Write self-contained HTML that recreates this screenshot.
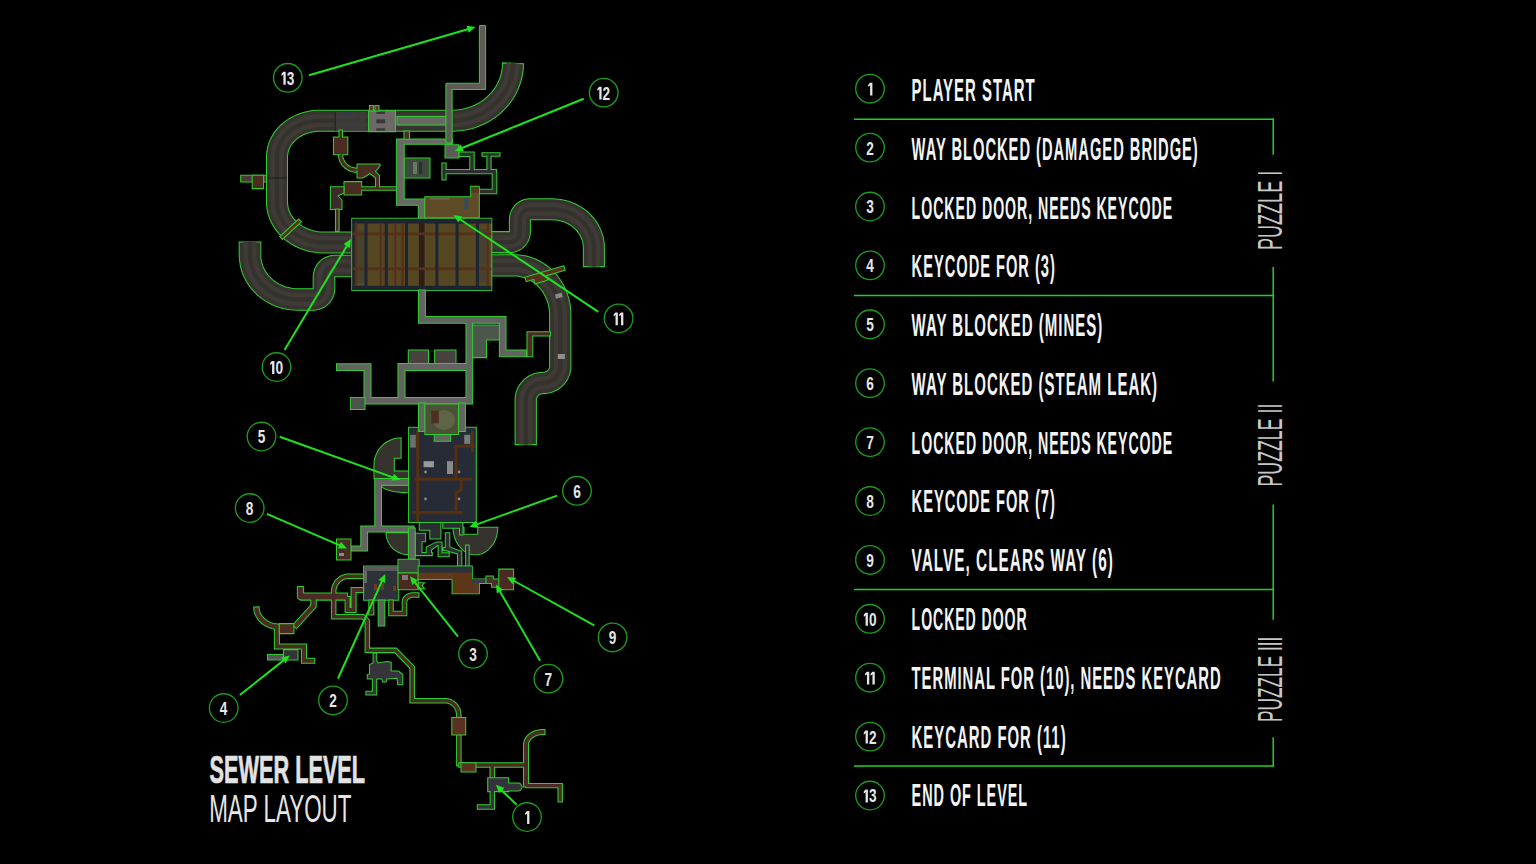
<!DOCTYPE html>
<html><head><meta charset="utf-8"><style>
html,body{margin:0;padding:0;background:#000;width:1536px;height:864px;overflow:hidden}
svg{display:block}
.it{font-family:"Liberation Sans",sans-serif;font-weight:bold;font-size:30.5px;fill:#f4f4f4;letter-spacing:2px}
.num{font-family:"Liberation Sans",sans-serif;font-weight:bold;font-size:18.6px;fill:#e6e6e6}
.pz{font-family:"Liberation Sans",sans-serif;font-weight:normal;font-size:34.5px;fill:#c8c8c8}
.t1{font-family:"Liberation Sans",sans-serif;font-weight:bold;font-size:38.8px;fill:#e2e2e2;stroke:#e2e2e2;stroke-width:0.7px}
.t2{font-family:"Liberation Sans",sans-serif;font-weight:normal;font-size:38.8px;fill:#e6e6e6}
</style></head><body>
<svg width="1536" height="864" viewBox="0 0 1536 864">
<rect width="1536" height="864" fill="#000"/>
<g id="map">
<path d="M266.8,175.2 L266.8,181.9 L240.7,181.9 L240.7,175.2Z" fill="#4a3a34" stroke="#30cc30" stroke-width="1.05"/>
<path d="M263.6,175.2 L263.6,188.6 L252.2,188.6 L252.2,175.2Z" fill="#4b2c22" stroke="#30cc30" stroke-width="1.05"/>
<path d="M502.4,66.3 L502.1,69.3 L501.5,72.3 L500.8,75.3 L499.9,78.2 L498.7,81 L497.4,83.8 L495.9,86.5 L494.2,89.1 L492.3,91.6 L490.2,94 L487.9,96.2 L485.5,98.4 L483,100.3 L480.3,102.1 L477.5,103.8 L474.6,105.3 L471.5,106.5 L468.4,107.6 L465.2,108.6 L462,109.3 L458.7,109.8 L455.3,110.1 L451.8,110.2 L319.9,110.2 L316.6,110.3 L313.2,110.6 L309.9,111 L306.6,111.7 L303.3,112.5 L300.1,113.5 L296.9,114.7 L293.9,116.1 L290.9,117.7 L288.1,119.4 L285.4,121.3 L282.8,123.3 L280.4,125.5 L278.1,127.8 L276,130.3 L274.1,132.9 L272.4,135.6 L270.8,138.5 L269.5,141.4 L268.4,144.4 L267.6,147.5 L267,150.6 L266.6,153.8 L266.5,156.8 L266.5,202.2 L266.6,205.4 L267,208.9 L267.7,212.3 L268.6,215.6 L269.7,218.9 L271.1,222 L272.7,225.1 L274.6,228.1 L276.6,230.9 L278.9,233.6 L281.3,236.2 L283.9,238.6 L286.7,240.8 L289.6,242.9 L292.6,244.8 L295.8,246.5 L299.1,248 L302.5,249.3 L305.9,250.4 L309.5,251.4 L313.1,252.1 L316.7,252.6 L320.3,252.9 L323.9,253 L352,253 L352,232 L324.1,232 L321.5,231.9 L319,231.7 L316.6,231.4 L314.2,230.9 L311.8,230.3 L309.5,229.5 L307.3,228.7 L305.2,227.7 L303.1,226.6 L301.2,225.4 L299.3,224.1 L297.6,222.7 L296,221.2 L294.6,219.7 L293.2,218.1 L292,216.4 L291,214.7 L290,212.9 L289.3,211.2 L288.6,209.4 L288.1,207.5 L287.8,205.7 L287.6,203.9 L287.5,201.8 L287.5,157.2 L287.6,155.4 L287.8,153.9 L288.1,152.3 L288.5,150.8 L289,149.3 L289.7,147.7 L290.5,146.2 L291.4,144.8 L292.5,143.4 L293.7,142 L295,140.6 L296.4,139.4 L297.9,138.2 L299.5,137 L301.3,136 L303.1,135 L305,134.1 L307,133.4 L309.1,132.7 L311.2,132.2 L313.4,131.8 L315.5,131.5 L317.8,131.3 L320.1,131.2 L452.2,131.2 L456.6,131.1 L461.3,130.6 L465.8,129.9 L470.4,128.9 L474.8,127.7 L479.2,126.1 L483.4,124.3 L487.5,122.2 L491.5,119.9 L495.3,117.4 L498.9,114.6 L502.3,111.5 L505.5,108.3 L508.5,104.9 L511.3,101.3 L513.8,97.5 L516,93.6 L518,89.5 L519.6,85.3 L521,81 L522.1,76.7 L522.9,72.2 L523.4,67.8 L523.5,63.7 L502.5,62.9Z" fill="#36332f" stroke="#30cc30" stroke-width="1.05"/>
<path d="M513.0,63.3 L512.9,67.1 L512.5,70.8 L511.8,74.5 L510.9,78.2 L509.8,81.8 L508.4,85.3 L506.7,88.7 L504.8,92.0 L502.7,95.2 L500.4,98.2 L497.9,101.1 L495.1,103.9 L492.2,106.5 L489.1,108.8 L485.9,111.0 L482.5,113.0 L479.0,114.8 L475.3,116.3 L471.6,117.7 L467.8,118.7 L463.9,119.6 L460.0,120.2 L456.0,120.6 L452.0,120.7 L320.0,120.7 L317.2,120.8 L314.4,121.0 L311.6,121.4 L308.9,121.9 L306.2,122.6 L303.5,123.5 L301.0,124.4 L298.5,125.6 L296.1,126.8 L293.8,128.2 L291.6,129.7 L289.6,131.3 L287.7,133.1 L285.9,134.9 L284.2,136.8 L282.8,138.8 L281.4,140.9 L280.3,143.1 L279.3,145.3 L278.5,147.6 L277.8,149.9 L277.4,152.3 L277.1,154.6 L277.0,157.0 L277.0,202.0 L277.1,204.6 L277.4,207.3 L277.9,209.9 L278.6,212.5 L279.5,215.0 L280.6,217.5 L281.8,219.9 L283.3,222.2 L284.9,224.5 L286.7,226.7 L288.7,228.7 L290.8,230.6 L293.0,232.4 L295.4,234.1 L297.9,235.7 L300.5,237.1 L303.2,238.3 L306.0,239.4 L308.9,240.4 L311.8,241.1 L314.8,241.7 L317.9,242.2 L320.9,242.4 L324.0,242.5 L352.0,242.5" fill="none" stroke="#3e3b37" stroke-width="13.0"/>
<path d="M513.0,63.3 L512.9,67.1 L512.5,70.8 L511.8,74.5 L510.9,78.2 L509.8,81.8 L508.4,85.3 L506.7,88.7 L504.8,92.0 L502.7,95.2 L500.4,98.2 L497.9,101.1 L495.1,103.9 L492.2,106.5 L489.1,108.8 L485.9,111.0 L482.5,113.0 L479.0,114.8 L475.3,116.3 L471.6,117.7 L467.8,118.7 L463.9,119.6 L460.0,120.2 L456.0,120.6 L452.0,120.7 L320.0,120.7 L317.2,120.8 L314.4,121.0 L311.6,121.4 L308.9,121.9 L306.2,122.6 L303.5,123.5 L301.0,124.4 L298.5,125.6 L296.1,126.8 L293.8,128.2 L291.6,129.7 L289.6,131.3 L287.7,133.1 L285.9,134.9 L284.2,136.8 L282.8,138.8 L281.4,140.9 L280.3,143.1 L279.3,145.3 L278.5,147.6 L277.8,149.9 L277.4,152.3 L277.1,154.6 L277.0,157.0 L277.0,202.0 L277.1,204.6 L277.4,207.3 L277.9,209.9 L278.6,212.5 L279.5,215.0 L280.6,217.5 L281.8,219.9 L283.3,222.2 L284.9,224.5 L286.7,226.7 L288.7,228.7 L290.8,230.6 L293.0,232.4 L295.4,234.1 L297.9,235.7 L300.5,237.1 L303.2,238.3 L306.0,239.4 L308.9,240.4 L311.8,241.1 L314.8,241.7 L317.9,242.2 L320.9,242.4 L324.0,242.5 L352.0,242.5" fill="none" stroke="#35322e" stroke-width="4.2"/>
<line x1="267" y1="178" x2="287" y2="178" stroke="#161616" stroke-width="0.8"/>
<path d="M239.2,255.2 L239.4,258.7 L239.8,262.3 L240.4,265.9 L241.3,269.5 L242.4,273 L243.8,276.4 L245.5,279.7 L247.3,282.9 L249.4,286 L251.6,288.9 L254.1,291.7 L256.7,294.4 L259.6,296.8 L262.5,299.1 L265.7,301.1 L268.9,303 L272.3,304.7 L275.8,306.2 L279.3,307.4 L283,308.4 L286.7,309.2 L290.4,309.8 L294.2,310.1 L297.8,310.2 L313.2,310.2 L314.4,310.2 L315.8,310.1 L317.2,309.8 L318.6,309.5 L320,309.1 L321.3,308.6 L322.6,308 L323.9,307.3 L325.1,306.6 L326.2,305.8 L327.3,304.9 L328.4,303.9 L329.4,302.8 L330.3,301.7 L331.1,300.6 L331.8,299.4 L332.5,298.1 L333.1,296.8 L333.6,295.5 L334,294.1 L334.3,292.7 L334.6,291.3 L334.7,289.9 L334.8,288.7 L334.8,277.2 L334.8,277 L334.8,277 L334.8,277 L334.8,276.9 L334.8,276.9 L334.8,276.9 L334.8,276.9 L334.8,276.9 L334.8,276.9 L334.8,276.9 L334.8,276.8 L334.8,276.8 L334.8,276.8 L334.9,276.8 L334.9,276.8 L334.9,276.8 L334.9,276.8 L334.9,276.8 L334.9,276.8 L334.9,276.8 L335,276.8 L335,276.8 L335,276.8 L335.2,276.8 L352,276.8 L352,255.2 L334.8,255.2 L333.6,255.3 L332.2,255.4 L330.8,255.7 L329.4,256 L328,256.4 L326.7,256.9 L325.4,257.5 L324.1,258.2 L322.9,258.9 L321.8,259.7 L320.7,260.6 L319.6,261.6 L318.6,262.7 L317.7,263.8 L316.9,264.9 L316.2,266.1 L315.5,267.4 L314.9,268.7 L314.4,270 L314,271.4 L313.7,272.8 L313.4,274.2 L313.3,275.6 L313.2,276.8 L313.2,288.3 L313.2,288.5 L313.2,288.5 L313.2,288.5 L313.2,288.6 L313.2,288.6 L313.2,288.6 L313.2,288.6 L313.2,288.6 L313.2,288.6 L313.2,288.6 L313.2,288.7 L313.2,288.7 L313.2,288.7 L313.1,288.7 L313.1,288.7 L313.1,288.7 L313.1,288.7 L313.1,288.7 L313.1,288.7 L313.1,288.7 L313,288.7 L313,288.7 L313,288.7 L312.8,288.8 L298.2,288.8 L295.5,288.7 L293,288.4 L290.6,288.1 L288.2,287.5 L285.8,286.9 L283.5,286.1 L281.2,285.1 L279.1,284.1 L277,282.9 L275,281.5 L273.1,280.1 L271.4,278.6 L269.7,277 L268.2,275.2 L266.8,273.4 L265.6,271.6 L264.4,269.6 L263.5,267.6 L262.6,265.6 L262,263.5 L261.4,261.4 L261.1,259.3 L260.8,257.2 L260.8,254.8 L260.8,242 L239.2,242Z" fill="#36332f" stroke="#30cc30" stroke-width="1.05"/>
<path d="M250.0,242.0 L250.0,255.0 L250.1,257.9 L250.4,260.8 L250.9,263.7 L251.6,266.5 L252.5,269.3 L253.7,272.0 L255.0,274.7 L256.4,277.2 L258.1,279.7 L259.9,282.1 L261.9,284.3 L264.1,286.5 L266.4,288.5 L268.8,290.3 L271.3,292.0 L274.0,293.5 L276.8,294.9 L279.6,296.1 L282.6,297.1 L285.6,298.0 L288.6,298.6 L291.7,299.1 L294.9,299.4 L298.0,299.5 L313.0,299.5 L313.7,299.5 L314.4,299.4 L315.1,299.3 L315.8,299.1 L316.5,298.9 L317.2,298.7 L317.9,298.4 L318.5,298.0 L319.1,297.6 L319.7,297.2 L320.3,296.8 L320.8,296.3 L321.3,295.8 L321.7,295.2 L322.1,294.6 L322.5,294.0 L322.9,293.4 L323.2,292.7 L323.4,292.0 L323.6,291.3 L323.8,290.6 L323.9,289.9 L324.0,289.2 L324.0,288.5 L324.0,277.0 L324.0,276.3 L324.1,275.6 L324.2,274.9 L324.4,274.2 L324.6,273.5 L324.8,272.8 L325.1,272.1 L325.5,271.5 L325.9,270.9 L326.3,270.3 L326.7,269.7 L327.2,269.2 L327.7,268.7 L328.3,268.3 L328.9,267.9 L329.5,267.5 L330.1,267.1 L330.8,266.8 L331.5,266.6 L332.2,266.4 L332.9,266.2 L333.6,266.1 L334.3,266.0 L335.0,266.0 L352.0,266.0" fill="none" stroke="#3e3b37" stroke-width="13.3"/>
<path d="M250.0,242.0 L250.0,255.0 L250.1,257.9 L250.4,260.8 L250.9,263.7 L251.6,266.5 L252.5,269.3 L253.7,272.0 L255.0,274.7 L256.4,277.2 L258.1,279.7 L259.9,282.1 L261.9,284.3 L264.1,286.5 L266.4,288.5 L268.8,290.3 L271.3,292.0 L274.0,293.5 L276.8,294.9 L279.6,296.1 L282.6,297.1 L285.6,298.0 L288.6,298.6 L291.7,299.1 L294.9,299.4 L298.0,299.5 L313.0,299.5 L313.7,299.5 L314.4,299.4 L315.1,299.3 L315.8,299.1 L316.5,298.9 L317.2,298.7 L317.9,298.4 L318.5,298.0 L319.1,297.6 L319.7,297.2 L320.3,296.8 L320.8,296.3 L321.3,295.8 L321.7,295.2 L322.1,294.6 L322.5,294.0 L322.9,293.4 L323.2,292.7 L323.4,292.0 L323.6,291.3 L323.8,290.6 L323.9,289.9 L324.0,289.2 L324.0,288.5 L324.0,277.0 L324.0,276.3 L324.1,275.6 L324.2,274.9 L324.4,274.2 L324.6,273.5 L324.8,272.8 L325.1,272.1 L325.5,271.5 L325.9,270.9 L326.3,270.3 L326.7,269.7 L327.2,269.2 L327.7,268.7 L328.3,268.3 L328.9,267.9 L329.5,267.5 L330.1,267.1 L330.8,266.8 L331.5,266.6 L332.2,266.4 L332.9,266.2 L333.6,266.1 L334.3,266.0 L335.0,266.0 L352.0,266.0" fill="none" stroke="#35322e" stroke-width="4.3"/>
<path d="M509.4,231.6 L509.3,231.6 L491,231.6 L491,252.6 L509.7,252.6 L510.9,252.6 L512.2,252.4 L513.6,252.2 L514.9,251.9 L516.2,251.5 L517.5,251 L518.7,250.4 L520,249.8 L521.1,249.1 L522.2,248.3 L523.3,247.4 L524.3,246.5 L525.2,245.5 L526.1,244.4 L526.9,243.3 L527.6,242.2 L528.2,240.9 L528.8,239.7 L529.3,238.4 L529.7,237.1 L530,235.8 L530.2,234.4 L530.4,233.1 L530.4,231.9 L530.4,219.9 L530.4,219.8 L551.8,219.8 L554.1,219.9 L556.2,220.1 L558.3,220.4 L560.3,220.8 L562.3,221.4 L564.3,222.1 L566.2,222.9 L568,223.8 L569.8,224.8 L571.4,225.9 L573,227.1 L574.5,228.4 L575.9,229.7 L577.2,231.2 L578.3,232.7 L579.4,234.2 L580.3,235.8 L581.1,237.5 L581.8,239.2 L582.4,240.9 L582.8,242.7 L583.1,244.4 L583.3,246.2 L583.4,248.2 L583.4,266.6 L604.4,266.6 L604.4,247.8 L604.3,244.7 L603.9,241.5 L603.4,238.2 L602.6,235.1 L601.5,231.9 L600.3,228.9 L598.8,225.9 L597.2,223.1 L595.4,220.3 L593.3,217.7 L591.1,215.3 L588.8,212.9 L586.2,210.7 L583.6,208.7 L580.8,206.9 L577.9,205.2 L574.9,203.7 L571.8,202.4 L568.6,201.3 L565.4,200.4 L562.1,199.7 L558.7,199.2 L555.4,198.9 L552.2,198.8 L529.6,198.8 L528.4,198.8 L527.1,199 L525.7,199.2 L524.4,199.5 L523.1,200 L521.8,200.5 L520.6,201 L519.4,201.7 L518.3,202.5 L517.2,203.3 L516.2,204.2 L515.2,205.1 L514.3,206.1 L513.5,207.2 L512.7,208.3 L512,209.4 L511.4,210.6 L510.9,211.9 L510.4,213.1 L510.1,214.4 L509.8,215.7 L509.6,217 L509.4,218.4 L509.4,219.5 L509.4,231.5Z" fill="#36332f" stroke="#30cc30" stroke-width="1.05"/>
<path d="M491.0,242.1 L509.5,242.1 L510.2,242.1 L510.9,242.0 L511.5,241.9 L512.2,241.7 L512.8,241.5 L513.5,241.3 L514.1,241.0 L514.7,240.7 L515.3,240.3 L515.8,240.0 L516.4,239.5 L516.9,239.1 L517.3,238.6 L517.8,238.0 L518.1,237.5 L518.5,236.9 L518.8,236.3 L519.1,235.7 L519.3,235.0 L519.5,234.4 L519.7,233.7 L519.8,233.1 L519.9,232.4 L519.9,231.7 L519.9,219.7 L519.9,219.0 L520.0,218.3 L520.1,217.7 L520.2,217.0 L520.4,216.4 L520.7,215.7 L520.9,215.1 L521.2,214.5 L521.6,213.9 L521.9,213.4 L522.4,212.8 L522.8,212.3 L523.3,211.9 L523.8,211.4 L524.3,211.1 L524.8,210.7 L525.4,210.4 L526.0,210.1 L526.6,209.9 L527.2,209.7 L527.9,209.5 L528.5,209.4 L529.2,209.3 L529.8,209.3 L552.0,209.3 L554.7,209.4 L557.5,209.6 L560.2,210.0 L562.8,210.6 L565.5,211.4 L568.0,212.2 L570.5,213.3 L573.0,214.5 L575.3,215.8 L577.5,217.3 L579.6,218.9 L581.6,220.6 L583.5,222.5 L585.2,224.4 L586.8,226.5 L588.3,228.7 L589.6,230.9 L590.7,233.2 L591.7,235.6 L592.5,238.0 L593.1,240.5 L593.5,242.9 L593.8,245.5 L593.9,248.0 L593.9,266.6" fill="none" stroke="#3e3b37" stroke-width="13.0"/>
<path d="M491.0,242.1 L509.5,242.1 L510.2,242.1 L510.9,242.0 L511.5,241.9 L512.2,241.7 L512.8,241.5 L513.5,241.3 L514.1,241.0 L514.7,240.7 L515.3,240.3 L515.8,240.0 L516.4,239.5 L516.9,239.1 L517.3,238.6 L517.8,238.0 L518.1,237.5 L518.5,236.9 L518.8,236.3 L519.1,235.7 L519.3,235.0 L519.5,234.4 L519.7,233.7 L519.8,233.1 L519.9,232.4 L519.9,231.7 L519.9,219.7 L519.9,219.0 L520.0,218.3 L520.1,217.7 L520.2,217.0 L520.4,216.4 L520.7,215.7 L520.9,215.1 L521.2,214.5 L521.6,213.9 L521.9,213.4 L522.4,212.8 L522.8,212.3 L523.3,211.9 L523.8,211.4 L524.3,211.1 L524.8,210.7 L525.4,210.4 L526.0,210.1 L526.6,209.9 L527.2,209.7 L527.9,209.5 L528.5,209.4 L529.2,209.3 L529.8,209.3 L552.0,209.3 L554.7,209.4 L557.5,209.6 L560.2,210.0 L562.8,210.6 L565.5,211.4 L568.0,212.2 L570.5,213.3 L573.0,214.5 L575.3,215.8 L577.5,217.3 L579.6,218.9 L581.6,220.6 L583.5,222.5 L585.2,224.4 L586.8,226.5 L588.3,228.7 L589.6,230.9 L590.7,233.2 L591.7,235.6 L592.5,238.0 L593.1,240.5 L593.5,242.9 L593.8,245.5 L593.9,248.0 L593.9,266.6" fill="none" stroke="#35322e" stroke-width="4.2"/>
<path d="M513.8,275.9 L516.3,276 L518.6,276.3 L520.8,276.7 L523,277.2 L525.2,278 L527.4,278.8 L529.5,279.8 L531.5,281 L533.5,282.3 L535.4,283.8 L537.2,285.4 L538.9,287.1 L540.6,289 L542.1,290.9 L543.5,293 L544.7,295.2 L545.8,297.5 L546.8,299.8 L547.7,302.2 L548.4,304.7 L548.9,307.2 L549.3,309.8 L549.6,312.4 L549.6,315.2 L549.6,365.8 L549.6,366.4 L549.6,366.8 L549.5,367.2 L549.4,367.6 L549.3,368 L549.2,368.4 L549,368.7 L548.8,369.1 L548.6,369.5 L548.3,369.8 L548.1,370.1 L547.8,370.4 L547.5,370.7 L547.1,371 L546.8,371.2 L546.4,371.5 L546,371.7 L545.6,371.8 L545.2,372 L544.8,372.1 L544.3,372.2 L543.9,372.3 L543.4,372.3 L542.7,372.4 L541,372.4 L539.1,372.6 L537.4,372.9 L535.6,373.3 L533.9,373.8 L532.2,374.4 L530.5,375.2 L528.9,376 L527.4,377 L525.9,378.1 L524.5,379.2 L523.2,380.4 L522,381.8 L520.8,383.2 L519.8,384.6 L518.8,386.2 L517.9,387.8 L517.2,389.4 L516.6,391.1 L516,392.8 L515.6,394.6 L515.3,396.4 L515.2,398.2 L515.1,399.8 L515.1,444.6 L536.4,444.6 L536.4,400.2 L536.4,399.6 L536.5,399.2 L536.5,398.8 L536.6,398.4 L536.7,398 L536.9,397.6 L537.1,397.2 L537.3,396.8 L537.5,396.5 L537.7,396.1 L538,395.8 L538.3,395.5 L538.6,395.2 L538.9,395 L539.2,394.7 L539.6,394.5 L539.9,394.3 L540.3,394.1 L540.7,394 L541.1,393.9 L541.5,393.8 L541.9,393.7 L542.3,393.7 L543.3,393.6 L544.8,393.6 L546.6,393.4 L548.4,393.1 L550.2,392.7 L551.9,392.2 L553.6,391.6 L555.3,390.8 L556.9,390 L558.5,389 L559.9,388 L561.4,386.9 L562.7,385.6 L564,384.3 L565.1,382.9 L566.2,381.4 L567.2,379.9 L568,378.3 L568.8,376.6 L569.5,374.9 L570,373.2 L570.4,371.4 L570.7,369.6 L570.9,367.8 L570.9,366.2 L570.9,314.8 L570.8,311.1 L570.5,307.2 L569.9,303.4 L569.1,299.6 L568,295.8 L566.7,292.1 L565.2,288.6 L563.5,285.1 L561.5,281.8 L559.4,278.5 L557.1,275.5 L554.5,272.6 L551.8,269.9 L549,267.3 L545.9,265 L542.8,262.9 L539.5,261 L536,259.3 L532.5,257.9 L528.9,256.8 L525.3,255.8 L521.5,255.2 L517.8,254.8 L514.2,254.7 L491,254.7 L491,275.9Z" fill="#36332f" stroke="#30cc30" stroke-width="1.05"/>
<path d="M491.0,265.3 L514.0,265.3 L517.0,265.4 L520.0,265.7 L523.0,266.3 L526.0,267.0 L528.9,267.9 L531.7,269.1 L534.5,270.4 L537.1,272.0 L539.7,273.7 L542.2,275.6 L544.5,277.6 L546.7,279.9 L548.8,282.2 L550.7,284.7 L552.5,287.4 L554.1,290.1 L555.5,293.0 L556.8,296.0 L557.8,299.0 L558.7,302.1 L559.4,305.3 L559.9,308.5 L560.2,311.7 L560.3,315.0 L560.3,366.0 L560.3,367.1 L560.2,368.2 L560.0,369.3 L559.7,370.4 L559.4,371.5 L559.0,372.5 L558.5,373.5 L558.0,374.5 L557.4,375.4 L556.7,376.3 L556.0,377.2 L555.2,378.0 L554.4,378.8 L553.5,379.5 L552.6,380.1 L551.6,380.7 L550.7,381.2 L549.6,381.7 L548.6,382.1 L547.5,382.4 L546.4,382.7 L545.3,382.9 L544.1,383.0 L543.0,383.0 L541.6,383.0 L540.5,383.1 L539.4,383.3 L538.4,383.6 L537.3,383.9 L536.2,384.3 L535.2,384.8 L534.2,385.3 L533.3,385.9 L532.4,386.5 L531.5,387.2 L530.7,388.0 L530.0,388.8 L529.3,389.7 L528.6,390.6 L528.0,391.5 L527.5,392.5 L527.0,393.5 L526.7,394.5 L526.3,395.6 L526.1,396.7 L525.9,397.8 L525.8,398.9 L525.8,400.0 L525.8,444.6" fill="none" stroke="#3e3b37" stroke-width="13.2"/>
<path d="M491.0,265.3 L514.0,265.3 L517.0,265.4 L520.0,265.7 L523.0,266.3 L526.0,267.0 L528.9,267.9 L531.7,269.1 L534.5,270.4 L537.1,272.0 L539.7,273.7 L542.2,275.6 L544.5,277.6 L546.7,279.9 L548.8,282.2 L550.7,284.7 L552.5,287.4 L554.1,290.1 L555.5,293.0 L556.8,296.0 L557.8,299.0 L558.7,302.1 L559.4,305.3 L559.9,308.5 L560.2,311.7 L560.3,315.0 L560.3,366.0 L560.3,367.1 L560.2,368.2 L560.0,369.3 L559.7,370.4 L559.4,371.5 L559.0,372.5 L558.5,373.5 L558.0,374.5 L557.4,375.4 L556.7,376.3 L556.0,377.2 L555.2,378.0 L554.4,378.8 L553.5,379.5 L552.6,380.1 L551.6,380.7 L550.7,381.2 L549.6,381.7 L548.6,382.1 L547.5,382.4 L546.4,382.7 L545.3,382.9 L544.1,383.0 L543.0,383.0 L541.6,383.0 L540.5,383.1 L539.4,383.3 L538.4,383.6 L537.3,383.9 L536.2,384.3 L535.2,384.8 L534.2,385.3 L533.3,385.9 L532.4,386.5 L531.5,387.2 L530.7,388.0 L530.0,388.8 L529.3,389.7 L528.6,390.6 L528.0,391.5 L527.5,392.5 L527.0,393.5 L526.7,394.5 L526.3,395.6 L526.1,396.7 L525.9,397.8 L525.8,398.9 L525.8,400.0 L525.8,444.6" fill="none" stroke="#35322e" stroke-width="4.3"/>
<path d="M563.8,265.8 L524.8,277.3 L526.2,281.7 L533.7,279.5 L535,284 L548,280 L545.9,275.9 L565.2,270.2Z" fill="#58301c" stroke="#30cc30" stroke-width="1.05"/>
<path d="M301.3,221.9 L298.7,219.1 L279.7,236.6 L282.3,239.4Z" fill="#58301c" stroke="#30cc30" stroke-width="1.05"/>
<rect x="555.3" y="293.5" width="7" height="4.5" fill="#8a8a8a" transform="rotate(-15 558.8 295.7)"/><rect x="557.8" y="354" width="7" height="5" fill="#8e8e8e"/>
<path d="M395.5,110.8 L395.5,131.6 L368.6,131.6 L368.6,110.8Z" fill="#6c6866" stroke="#30cc30" stroke-width="1.05"/>
<rect x="376.3" y="111.5" width="8.8" height="2.5" fill="#38383a"/><rect x="376.3" y="119.3" width="8.8" height="4" fill="#38383a"/><rect x="376.3" y="128.3" width="8.8" height="2.4" fill="#38383a"/>
<path d="M373.5,105.5 L373.5,111 L369.5,111 L369.5,105.5Z" fill="#5a3a2a" stroke="#30cc30" stroke-width="1.05"/>
<path d="M379,105.5 L379,111 L375,111 L375,105.5Z" fill="#5a3a2a" stroke="#30cc30" stroke-width="1.05"/>
<rect x="335.5" y="112" width="30" height="19" fill="#3e3c3c" opacity="0.7"/><line x1="335.2" y1="111.5" x2="335.2" y2="131" stroke="#1a1a1a" stroke-width="0.8"/><rect x="343" y="112.5" width="8" height="2.5" fill="#2e3a50" opacity="0.8"/><rect x="354" y="117" width="6" height="2.5" fill="#2e3a50" opacity="0.7"/>
<path d="M397,125 L446,125 L446,116.5 L397,116.5ZM396.4,144.3 L396.4,199 L396.4,205.2 L404.2,205.2 L418.3,205.2 L418.3,218.5 L425,218.5 L425,205.2 L425,199 L418.3,199 L404.2,199 L404.2,144.3 L452.3,144.3 L452.3,139 L404.2,139 L396.4,139Z" fill="#696867" stroke="#30cc30" stroke-width="1.05"/>
<path d="M452.1,89.5 L452.1,89.5 L484.4,89.5 L484.5,89.5 L484.6,89.5 L484.7,89.4 L484.9,89.4 L485,89.4 L485.1,89.3 L485.2,89.2 L485.2,89.1 L485.3,89.1 L485.4,89 L485.5,88.9 L485.5,88.8 L485.5,88.6 L485.6,88.5 L485.6,88.4 L485.6,88.3 L485.6,26.7 L485.6,26.6 L485.6,26.5 L485.5,26.4 L485.5,26.2 L485.5,26.1 L485.4,26 L485.3,25.9 L485.2,25.9 L485.2,25.8 L485.1,25.7 L485,25.6 L484.9,25.6 L484.7,25.6 L484.6,25.5 L484.5,25.5 L484.4,25.5 L480.6,25.5 L480.5,25.5 L480.4,25.5 L480.3,25.6 L480.1,25.6 L480,25.6 L479.9,25.7 L479.8,25.8 L479.8,25.9 L479.7,25.9 L479.6,26 L479.5,26.1 L479.5,26.2 L479.5,26.4 L479.4,26.5 L479.4,26.6 L479.4,26.7 L479.4,83.3 L479.4,83.3 L479.4,83.3 L447.1,83.3 L447,83.3 L446.9,83.3 L446.8,83.4 L446.6,83.4 L446.5,83.4 L446.4,83.5 L446.3,83.6 L446.3,83.7 L446.2,83.7 L446.1,83.8 L446,83.9 L446,84 L446,84.2 L445.9,84.3 L445.9,84.4 L445.9,84.5 L445.9,141.8 L445.9,141.9 L445.9,142 L446,142.1 L446,142.3 L446,142.4 L446.1,142.5 L446.2,142.6 L446.3,142.6 L446.3,142.7 L446.4,142.8 L446.5,142.9 L446.6,142.9 L446.8,142.9 L446.9,143 L447,143 L447.1,143 L450.9,143 L451,143 L451.1,143 L451.2,142.9 L451.4,142.9 L451.5,142.9 L451.6,142.8 L451.7,142.7 L451.7,142.6 L451.8,142.6 L451.9,142.5 L452,142.4 L452,142.3 L452,142.1 L452.1,142 L452.1,141.9 L452.1,141.8 L452.1,89.5Z" fill="#5e5b57" stroke="#30cc30" stroke-width="1.05"/>
<path d="M409.5,131 L409.5,139.2 L404,139.2 L404,131Z" fill="#4b2c22" stroke="#30cc30" stroke-width="1.05"/>
<path d="M430,158 L430,178 L404.2,178 L404.2,158Z" fill="#3c4a3e" stroke="#30cc30" stroke-width="1.05"/>
<rect x="413" y="162" width="4" height="12" fill="#6a7468"/><rect x="419" y="162" width="3" height="12" fill="#2a302a"/>
<path d="M459,144.8 L459,158 L445,158 L445,144.8Z" fill="#5a5c58" stroke="#30cc30" stroke-width="1.05"/>
<path d="M482,152.7 L482,156.3 L486.9,156.3 L486.9,169.4 L474.2,169.4 L474.2,152 L459,152 L459,156.4 L469.8,156.4 L469.8,169.4 L446.1,169.4 L446.1,163 L441.9,163 L441.9,180 L446.1,180 L446.1,173.8 L492.2,173.8 L492.2,189.2 L479.5,189.2 L479.5,193.8 L496.8,193.8 L496.8,171.6 L496.5,171.6 L496.5,169.4 L491.1,169.4 L491.1,156.3 L500,156.3 L500,152.7Z" fill="#2e2d30" stroke="#30cc30" stroke-width="1.05"/>
<path d="M339,130 L339,137 L333.5,137 L333.5,154.7 L340.6,154.7 L338.5,154.8 L338.5,155.9 L338.7,157 L338.9,158.2 L339.1,159.3 L339.5,160.4 L339.9,161.5 L340.4,162.5 L341,163.5 L341.6,164.5 L342.4,165.5 L343.1,166.3 L344,167.2 L344.8,168 L345.8,168.7 L346.8,169.4 L347.8,170 L348.9,170.5 L350,171 L351.1,171.4 L352.2,171.7 L353.4,172 L354.6,172.2 L355.8,172.3 L356.9,172.3 L357,170.2 L357,178 L363,178 L370,173.5 L375.5,178 L375.5,186.8 L361.7,186.8 L361.7,181.6 L344,181.6 L344,195 L361.7,195 L361.7,190.2 L396.6,190.2 L396.6,186.8 L379.5,186.8 L379.5,175.5 L375.5,171.5 L380,166 L380,164 L357,164 L357,168.1 L356.1,168.1 L355.1,168 L354.2,167.8 L353.3,167.6 L352.4,167.4 L351.5,167.1 L350.6,166.7 L349.8,166.3 L349,165.8 L348.2,165.3 L347.5,164.7 L346.8,164.1 L346.2,163.5 L345.6,162.8 L345.1,162.1 L344.6,161.4 L344.2,160.6 L343.8,159.8 L343.4,159 L343.2,158.1 L343,157.3 L342.8,156.4 L342.7,155.6 L342.7,154.7 L347.8,154.7 L347.8,137 L342.5,137 L342.5,130Z" fill="#4b2c22" stroke="#30cc30" stroke-width="1.05"/>
<path d="M330.4,186.8 L344,186.8 L344,193 L338,196 L342,200 L342,209.4 L330.4,209.4Z" fill="#3e2a2c" stroke="#30cc30" stroke-width="1.05"/>
<path d="M335.5,231.5 L339.1,231.5 L339.1,209 L335.5,209Z" fill="#4b2c22" stroke="#30cc30" stroke-width="1.05"/>
<path d="M491.8,218.3 L491.8,290.5 L351.8,290.5 L351.8,218.3Z" fill="#554722" stroke="#30cc30" stroke-width="1.05"/>
<rect x="357.5" y="229" width="7" height="54" fill="#3a3a3c" opacity="0.45"/><rect x="478" y="229" width="9" height="54" fill="#3a3a40" opacity="0.45"/>
<rect x="352.3" y="218.8" width="139" height="4.8" fill="#1d2430"/>
<rect x="352.3" y="285.8" width="139" height="4.3" fill="#1d2430"/>
<rect x="352.3" y="219" width="2.5" height="71" fill="#1d2430"/>
<rect x="355.0" y="223" width="2.2" height="63" fill="#55301a"/>
<rect x="379.6" y="223" width="2.2" height="63" fill="#55301a"/>
<rect x="394.2" y="223" width="2.2" height="63" fill="#55301a"/>
<rect x="401.3" y="223" width="2.2" height="63" fill="#55301a"/>
<rect x="486.7" y="223" width="2.2" height="63" fill="#55301a"/>
<rect x="418.9" y="223" width="5.7" height="63" fill="#2e1c16"/><rect x="425" y="223" width="1.2" height="63" fill="#5e5040" opacity="0.7"/>
<rect x="352.3" y="232.5" width="139" height="2.8" fill="#55301a"/>
<rect x="352.3" y="267.4" width="139" height="2.8" fill="#55301a"/>
<rect x="364.5" y="219" width="3" height="71" fill="#1d2532"/>
<rect x="384.8" y="219" width="3" height="71" fill="#1d2532"/>
<rect x="405.0" y="219" width="3" height="71" fill="#1d2532"/>
<rect x="435.4" y="219" width="3" height="71" fill="#1d2532"/>
<rect x="455.6" y="219" width="3" height="71" fill="#1d2532"/>
<rect x="475.9" y="219" width="3" height="71" fill="#1d2532"/>
<path d="M479.3,186.3 L470.7,186.3 L470.7,196.8 L424.8,196.8 L424.8,217.8 L479.3,217.8 L479.3,197.5 L479.3,196.8Z" fill="#5f4b27" stroke="#30cc30" stroke-width="1.05"/>
<rect x="464" y="198" width="4.5" height="12" fill="#3a4a50"/><rect x="471" y="187" width="8" height="6" fill="#573a22"/><rect x="430" y="198" width="20" height="1.5" fill="#7a7060" opacity="0.7"/>
<path d="M425.4,323.3 L466,323.3 L466,363.5 L405,363.5 L398,363.5 L398,370.5 L398,397.4 L371,397.4 L371,370.5 L371,363.7 L364,363.7 L336.5,363.7 L336.5,370.5 L364,370.5 L364,397.4 L364,404 L371,404 L398,404 L405,404 L466,404 L472.6,404 L472.6,397.4 L472.6,370.5 L472.6,363.5 L472.6,323.3 L499.4,323.3 L499.4,350 L499.4,356.7 L506,356.7 L526.5,356.7 L526.5,350 L506,350 L506,323.3 L506,316.5 L499.4,316.5 L472.6,316.5 L466,316.5 L425.4,316.5 L425.4,290 L418.5,290 L418.5,316.5 L418.5,323.3ZM405,370.5 L466,370.5 L466,397.4 L405,397.4Z" fill="#646262" stroke="#30cc30" stroke-width="1.05"/>
<path d="M550.5,336 L550.5,331.7 L532.8,331.7 L527,331.7 L527,336 L527,356.7 L532.8,356.7 L532.8,336Z" fill="#4b2c22" stroke="#30cc30" stroke-width="1.05"/>
<path d="M472.6,325 L499.4,325 L499.4,340 L486.5,340 L486.5,357.6 L472.6,357.6Z" fill="#4a574a" stroke="#30cc30" stroke-width="1.05"/>
<path d="M428.5,350 L428.5,363.5 L408.3,363.5 L408.3,350Z" fill="#48423e" stroke="#30cc30" stroke-width="1.05"/>
<path d="M456,350 L456,363.5 L434.6,363.5 L434.6,350Z" fill="#48423e" stroke="#30cc30" stroke-width="1.05"/>
<path d="M365,397.4 L365,409.4 L350.4,409.4 L350.4,397.4Z" fill="#4b544a" stroke="#30cc30" stroke-width="1.05"/>
<path d="M401.1,437.9 L401.1,458.2 L394.3,458.2 L394.3,470.9 L408.6,470.9 L408.6,478.5 L374,478.5 L374,465 L374.1,463.2 L374.2,461.5 L374.5,459.7 L374.9,458 L375.4,456.3 L376.1,454.6 L376.8,453 L377.6,451.4 L378.6,449.9 L379.6,448.5 L380.7,447.1 L381.9,445.8 L383.2,444.6 L384.6,443.5 L386,442.5 L387.6,441.5 L389.1,440.7 L390.7,440 L392.4,439.3 L394.1,438.8 L395.8,438.4 L397.6,438.1 L399.3,438Z" fill="#36332f" stroke="#30cc30" stroke-width="1.05"/>
<path d="M381.5,485.2 L408.6,485.2 L408.6,492.7 L406.8,492.7 L405.1,492.6 L403.3,492.6 L401.6,492.4 L399.9,492.3 L398.2,492.1 L396.6,491.9 L395.1,491.7 L393.5,491.4 L392.1,491.2 L390.7,490.8 L389.4,490.5 L388.2,490.1 L387.1,489.8 L386.1,489.4 L385.1,488.9 L384.3,488.5 L383.6,488.1 L382.9,487.6 L382.4,487.1 L382,486.7 L381.7,486.2 L381.6,485.7Z" fill="#36332f" stroke="#30cc30" stroke-width="1.05"/>
<path d="M476.3,427.3 L476.3,522.4 L408.6,522.4 L408.6,427.3Z" fill="#262b36" stroke="#30cc30" stroke-width="1.05"/>
<rect x="410.1" y="434.8" width="5.7" height="12.8" fill="#6e6e6e"/><rect x="464.2" y="434.8" width="6.1" height="9.1" fill="#7a7a7a"/>
<rect x="423.6" y="461.2" width="10.3" height="6" fill="#9a9a9a"/><rect x="447" y="461.2" width="6" height="12.8" fill="#8a8a8a"/>
<g fill="#8a8a8a"><circle cx="425.5" cy="472" r="1.4"/><circle cx="459" cy="472" r="1.4"/><circle cx="425.5" cy="499" r="1.4"/><circle cx="459" cy="499" r="1.4"/></g>
<g fill="none" stroke="#57300f" stroke-width="2.8"><path d="M417.6,429.6 V522"/><path d="M414.6,479.2 H471.8"/><path d="M456,479 V446.1 H474.8 M472.5,431 V452"/><path d="M412.4,512.3 H462.7 M461.2,479 V490 L456,493 V512.3"/></g>
<path d="M418.5,403 L418.5,431.5 L425.2,431.5 L425.2,403ZM458.5,403 L458.5,431.5 L465.4,431.5 L465.4,403Z" fill="#646262" stroke="#30cc30" stroke-width="1.05"/>
<path d="M458.5,404 L458.5,434.4 L424.9,434.4 L424.9,404Z" fill="#4c5238" stroke="#30cc30" stroke-width="1.05"/>
<ellipse cx="444" cy="420" rx="11" ry="10" fill="#6e7250" opacity="0.6"/><rect x="431.3" y="410.6" width="7.5" height="12.8" fill="#4e3020"/>
<path d="M450.7,434.4 L450.7,441.3 L434.2,441.3 L434.2,434.4Z" fill="#646262" stroke="#30cc30" stroke-width="1.05"/>
<path d="M408.6,478.5 L381.5,478.5 L374.8,478.5 L374.8,485.2 L374.8,526 L367.6,526 L360.8,526 L360.8,532 L360.8,546 L351,546 L351,551 L360.8,551 L367.6,551 L367.6,546 L367.6,532 L414,532 L414,526 L381.5,526 L381.5,485.2 L408.6,485.2Z" fill="#646262" stroke="#30cc30" stroke-width="1.05"/>
<path d="M351,539 L351,560 L336.5,560 L336.5,539Z" fill="#4a2a24" stroke="#30cc30" stroke-width="1.05"/>
<rect x="339" y="553" width="5" height="3" fill="#8a8a8a"/>
<path d="M386,532.6 L415.3,532.6 L415.3,554.6 L408.4,554.6 L406.9,554.6 L405.5,554.4 L404,554.2 L402.6,553.9 L401.2,553.4 L399.8,552.9 L398.5,552.3 L397.2,551.7 L396,550.9 L394.8,550.1 L393.6,549.1 L392.6,548.2 L391.6,547.1 L390.6,546 L389.8,544.8 L389,543.6 L388.3,542.3 L387.7,541 L387.2,539.7 L386.8,538.3 L386.4,536.9 L386.2,535.5 L386,534Z" fill="#36332f" stroke="#30cc30" stroke-width="1.05"/>
<path d="M453,527.3 L464,527.3 L464,534.2 L477.7,534.2 L477.7,527.3 L497.8,527.3 L497.6,530.9 L497,534.4 L496.1,537.8 L494.8,541 L493.2,544 L491.2,546.7 L489,549.1 L486.6,551.1 L484,552.7 L481.2,553.9 L478.3,554.6 L475.4,554.8 L472.5,554.6 L469.6,553.9 L466.8,552.7 L464.2,551.1 L461.8,549.1 L459.6,546.7 L457.6,544 L456,541 L454.7,537.8 L453.8,534.4 L453.2,530.9Z" fill="#36332f" stroke="#30cc30" stroke-width="1.05"/>
<path d="M459.5,528.3 L459.5,535 L463,535 L463,522.4 L459.5,522.4 L459.5,522.5 L442.8,522.5 L442.8,528.3ZM429.8,538.9 L440.9,538.9 L440.9,522.5 L419.2,522.5 L419.2,530.3 L429.8,530.3ZM415.3,533.3 L415.3,541.7 L415.3,552.5 L415.3,555.6 L422,555.6 L432.3,555.6 L432.3,552.5 L431.5,552.5 L431.5,550 L437.5,545.6 L438.1,545.6 L438.1,552.8 L438.1,556.7 L442.1,556.7 L449.2,556.7 L449.2,552.8 L442.1,552.8 L442.1,545.6 L442,545.6 L442,541.9 L436.5,541.9 L426.2,547 L426.2,552.5 L422,552.5 L422,541.7 L425.6,541.7 L425.6,533.3 L422,533.3ZM443,547.5 L443,550.5 L445.3,550.5 L457.5,553.9 L457.5,566.3 L461.8,566.3 L461.8,551 L460.2,551 L449.8,547 L449.8,532.8 L445.3,532.8 L445.3,547 L445.3,547.5ZM469.2,566.3 L469.2,545 L465.6,545 L465.6,566.3Z" fill="#2c2d33" stroke="#30cc30" stroke-width="1.05"/>
<path d="M415.2,528 L415.2,559.2 L408.4,559.2 L408.4,528Z" fill="#646262" stroke="#30cc30" stroke-width="1.05"/>
<path d="M398.8,566 L398.8,600.3 L363.6,600.3 L363.6,566Z" fill="#2e3138" stroke="#30cc30" stroke-width="1.05"/>
<rect x="364" y="566.5" width="34.3" height="4.5" fill="#5a5a5c"/><rect x="364.2" y="571" width="2.8" height="12" fill="#6a6a6a"/>
<rect x="374" y="584" width="3" height="6" fill="#6a3a1a"/><rect x="381" y="584" width="3" height="6" fill="#6a3a1a"/><rect x="393" y="586" width="3" height="5" fill="#6a3a1a"/>
<path d="M419.2,559.2 L419.2,573 L398,573 L398,559.2Z" fill="#3d433e" stroke="#30cc30" stroke-width="1.05"/>
<path d="M418.2,573 L418.2,589.7 L398,589.7 L398,573Z" fill="#4a2a20" stroke="#30cc30" stroke-width="1.05"/>
<rect x="402" y="575" width="6" height="5" fill="#7a7a7a"/>
<path d="M418.2,582.8 L424.6,582.8 L422,585.5 L424.6,588.7 L418.2,588.7Z" fill="#4a2a20" stroke="#30cc30" stroke-width="1.05"/>
<path d="M452.1,566.1 L418.2,566.1 L418.2,579.4 L452.1,579.4 L452.1,593.7 L472.3,593.7 L479.4,593.7 L479.4,583.5 L486.5,583.5 L486.5,578.9 L479.4,578.9 L472.3,578.9 L472.3,566.1Z" fill="#3a2e2a" stroke="#30cc30" stroke-width="1.05"/>
<rect x="418.8" y="566.6" width="53" height="6" fill="#2a2f3c"/><rect x="418.8" y="572.6" width="40" height="6.5" fill="#5c3a1a"/><rect x="453" y="572.6" width="19" height="20.5" fill="#5c3616"/><rect x="472.3" y="579.4" width="6.6" height="13.8" fill="#5a3a1e"/><rect x="472.3" y="579.4" width="14" height="3.6" fill="#3a3a44"/>
<path d="M493.3,576 L486,576 L486,583.5 L491.5,583.5 L491.5,587.2 L499.8,587.2 L499.8,578.9 L493.3,578.9Z" fill="#4a2e28" stroke="#30cc30" stroke-width="1.05"/>
<path d="M513.6,569.1 L513.6,589.7 L498.8,589.7 L498.8,569.1Z" fill="#4a2a22" stroke="#30cc30" stroke-width="1.05"/>
<path d="M297.5,597.1 L297.5,597.4 L297.6,597.7 L297.8,598 L297.9,598.2 L298.1,598.5 L298.3,598.7 L298.5,598.9 L298.8,599.1 L299,599.2 L299.3,599.4 L299.6,599.5 L299.9,599.5 L300,599.6 L300,600.1 L310.8,600.1 L310.8,605 L292.5,625.2 L296.5,628.8 L316.2,607 L316.2,600.1 L331.4,600.1 L331.4,619 L362.1,619 L365.1,621.9 L365.1,652.6 L394.6,652.6 L409.9,668.3 L409.9,702.9 L444.7,702.9 L445.5,702.9 L446.2,703 L447,703.1 L447.8,703.3 L448.5,703.5 L449.2,703.8 L449.9,704.1 L450.6,704.5 L451.3,704.9 L451.9,705.3 L452.5,705.9 L453.1,706.4 L453.6,707 L454.1,707.6 L454.5,708.2 L455,708.9 L455.3,709.6 L455.6,710.3 L455.9,711.1 L456.1,711.8 L456.3,712.6 L456.4,713.4 L456.5,714.2 L456.6,715 L456.6,766 L461.1,766 L461.1,715 L461,713.9 L460.9,712.8 L460.7,711.8 L460.5,710.7 L460.2,709.7 L459.8,708.6 L459.4,707.7 L458.9,706.7 L458.3,705.8 L457.7,704.9 L457,704 L456.3,703.2 L455.5,702.5 L454.7,701.8 L453.8,701.2 L452.9,700.6 L451.9,700.1 L451,699.6 L450,699.2 L448.9,698.9 L447.9,698.7 L446.8,698.5 L445.8,698.4 L444.7,698.4 L414.4,698.4 L414.4,666.5 L396.4,648.1 L369.6,648.1 L369.6,620.1 L363.9,614.5 L335.9,614.5 L335.9,600.1 L345.1,600.1 L345.1,612.5 L356.1,612.5 L356.1,592.5 L363.6,592.5 L363.6,587.5 L351.1,587.5 L351.1,607.5 L350.1,607.5 L350.1,596.5 L347.6,596.5 L347.6,592.9 L335.9,592.9 L335.9,591.5 L336,590.6 L336.1,589.8 L336.2,589 L336.4,588.1 L336.6,587.3 L336.9,586.5 L337.3,585.7 L337.7,585 L338.2,584.3 L338.6,583.6 L339.2,582.9 L339.8,582.3 L340.4,581.7 L341.1,581.1 L341.8,580.7 L342.5,580.2 L343.2,579.8 L344,579.4 L344.8,579.1 L345.6,578.9 L346.5,578.7 L347.3,578.6 L348.1,578.5 L349,578.5 L363.6,578.5 L363.6,574 L349,574 L347.9,574 L346.7,574.1 L345.6,574.3 L344.5,574.5 L343.4,574.9 L342.3,575.3 L341.2,575.8 L340.2,576.3 L339.2,576.9 L338.3,577.6 L337.4,578.3 L336.6,579.1 L335.8,579.9 L335.1,580.8 L334.4,581.7 L333.8,582.7 L333.3,583.7 L332.8,584.8 L332.4,585.9 L332,587 L331.8,588.1 L331.6,589.2 L331.5,590.4 L331.4,591.5 L331.4,592.9 L303.6,592.9 L303.6,586.4 L297.4,586.4 L297.4,596.5 L297.4,596.8ZM406.8,601.7 L406.8,601.4 L406.9,601.2 L407,600.9 L407.1,600.6 L407.2,600.4 L407.4,600.1 L407.5,599.8 L407.7,599.6 L407.9,599.3 L408.2,599.1 L408.5,598.8 L408.7,598.6 L409.1,598.4 L409.4,598.2 L409.7,598 L410.1,597.9 L410.5,597.7 L410.9,597.6 L411.3,597.5 L411.7,597.4 L412.1,597.3 L412.6,597.3 L413,597.3 L419,597.3 L419,592.7 L413,592.7 L412.3,592.7 L411.6,592.8 L411,592.9 L410.3,593 L409.6,593.2 L409,593.4 L408.4,593.6 L407.8,593.9 L407.2,594.2 L406.6,594.5 L406,594.9 L405.5,595.3 L405,595.7 L404.6,596.2 L404.1,596.7 L403.8,597.2 L403.4,597.7 L403.1,598.3 L402.8,598.9 L402.6,599.5 L402.4,600.1 L402.3,600.7 L402.2,601.4 L402.2,602 L402.2,611.2 L393.3,611.2 L393.3,600 L388.7,600 L388.7,615.8 L406.8,615.8 L406.8,602ZM368.8,600 L368.8,615 L373.8,615 L373.8,600Z" fill="#4a2c24" stroke="#30cc30" stroke-width="1.05"/>
<path d="M378.2,626 L384.8,626 L384.8,600 L378.2,600Z" fill="#5f5e5c" stroke="#30cc30" stroke-width="1.05"/>
<path d="M276.4,623.8 L275.1,623.7 L273.8,623.4 L272.5,623.1 L271.3,622.7 L270.1,622.2 L268.9,621.6 L267.8,621 L266.7,620.4 L265.7,619.7 L264.8,618.9 L263.9,618.1 L263.1,617.2 L262.4,616.3 L261.7,615.4 L261.1,614.4 L260.6,613.4 L260.1,612.4 L259.8,611.3 L259.5,610.2 L259.3,609.2 L259.1,608.1 L259.1,606.9 L253.7,607.1 L253.8,608.5 L253.9,610 L254.2,611.4 L254.6,612.9 L255.1,614.3 L255.7,615.7 L256.4,617 L257.2,618.3 L258.1,619.6 L259,620.8 L260.1,621.9 L261.2,623 L262.5,624 L263.7,624.9 L265.1,625.7 L266.5,626.5 L267.9,627.1 L269.4,627.7 L271,628.2 L272.5,628.7 L274.1,629 L274.4,629 L274.4,649 L301.5,649 L301.5,663.2 L314.7,663.2 L314.7,658.2 L306.5,658.2 L306.5,644 L279.4,644 L279.4,625 L279,625 L279.1,624 L277.7,624Z" fill="#4a2c24" stroke="#30cc30" stroke-width="1.05"/>
<path d="M293.9,623.6 L293.9,633.6 L279.3,633.6 L279.3,623.6Z" fill="#4e2c1e" stroke="#30cc30" stroke-width="1.05"/>
<path d="M298,649.6 L298,660 L283.5,660 L283.5,649.6Z" fill="#34323a" stroke="#30cc30" stroke-width="1.05"/>
<path d="M283.5,654.4 L283.5,660 L267.5,660 L267.5,654.4Z" fill="#56555a" stroke="#30cc30" stroke-width="1.05"/>
<path d="M369.5,664.5 L369.5,673.9 L367.3,674.6 L367.3,679 L372.4,679 L372.4,691.3 L365.9,691.3 L365.9,694.9 L376.7,694.9 L376.7,679 L381.8,679 L382.5,681.9 L386.1,681.9 L386.8,679 L397,678.2 L397.7,684.8 L402.8,684.8 L402.8,674.6 L398.4,671 L391.2,671 L391.2,662.3 L386.8,661.6 L378.2,663 L376.7,660.9 L376.7,652.9 L373.1,652.9 L373.1,663Z" fill="#36343a" stroke="#30cc30" stroke-width="1.05"/>
<path d="M528.6,743.7 L528.7,743.1 L528.9,742.5 L529.2,741.8 L529.5,741.2 L529.9,740.6 L530.3,740 L530.7,739.4 L531.3,738.9 L531.9,738.3 L532.5,737.8 L533.2,737.3 L533.9,736.8 L534.7,736.4 L535.5,736 L536.4,735.7 L537.2,735.4 L538.2,735.1 L539.1,734.9 L540.1,734.7 L541,734.6 L542,734.5 L543,734.5 L545,734.5 L545,729.5 L543,729.5 L541.8,729.5 L540.5,729.6 L539.3,729.8 L538.1,730 L536.9,730.3 L535.7,730.6 L534.6,731 L533.5,731.5 L532.4,732 L531.4,732.5 L530.4,733.1 L529.5,733.8 L528.6,734.5 L527.7,735.3 L527,736.1 L526.3,737 L525.7,737.9 L525.1,738.8 L524.6,739.8 L524.2,740.8 L523.9,741.8 L523.7,742.9 L523.5,743.9 L523.5,744.9 L523.5,762.7 L458.8,762.7 L458.8,767.3 L490,767.3 L490,778 L494.6,778 L494.6,767.3 L523.5,767.3 L523.5,787 L526,787 L526,787.8 L558,787.8 L558,802 L562.4,802 L562.4,783.4 L528.5,783.4 L528.5,745.1 L528.5,744.4Z" fill="#4a2c24" stroke="#30cc30" stroke-width="1.05"/>
<path d="M465.7,717.5 L465.7,735 L451.8,735 L451.8,717.5Z" fill="#5a3020" stroke="#30cc30" stroke-width="1.05"/>
<path d="M476,762.7 L476,772 L461,772 L461,762.7Z" fill="#5a3020" stroke="#30cc30" stroke-width="1.05"/>
<path d="M508.6,777.7 L487.7,777.7 L487.7,791.6 L490.1,791.6 L490.1,804.8 L477.3,804.8 L477.3,809.2 L494.5,809.2 L494.5,791.6 L508.6,791.6 L508.6,791 L518,791 L518.4,791 L518.8,790.9 L519.2,790.8 L519.5,790.7 L519.9,790.5 L520.2,790.3 L520.5,790.1 L520.8,789.8 L521.1,789.5 L521.3,789.2 L521.5,788.9 L521.7,788.5 L521.8,788.2 L521.9,787.8 L522,787.4 L522,787 L522,786.6 L521.9,786.2 L521.8,785.8 L521.7,785.5 L521.5,785.1 L521.3,784.8 L521.1,784.5 L520.8,784.2 L520.5,783.9 L520.2,783.7 L519.9,783.5 L519.5,783.3 L519.2,783.2 L518.8,783.1 L518.4,783 L518,783 L508.6,783Z" fill="#34323a" stroke="#30cc30" stroke-width="1.05"/>
<line x1="309.0" y1="75.2" x2="468.6" y2="29.0" stroke="#1fe21f" stroke-width="2"/>
<path d="M475.5,27.0 L468.7,32.8 L466.6,25.7 Z" fill="#1fe21f"/>
<line x1="583.7" y1="98.8" x2="461.4" y2="148.3" stroke="#1fe21f" stroke-width="2"/>
<path d="M454.7,151.0 L460.9,144.5 L463.7,151.4 Z" fill="#1fe21f"/>
<line x1="598.3" y1="311.8" x2="459.5" y2="219.0" stroke="#1fe21f" stroke-width="2"/>
<path d="M453.5,215.0 L462.4,216.5 L458.3,222.6 Z" fill="#1fe21f"/>
<line x1="284.5" y1="350.0" x2="347.3" y2="245.2" stroke="#1fe21f" stroke-width="2"/>
<path d="M351.0,239.0 L350.0,247.9 L343.6,244.1 Z" fill="#1fe21f"/>
<line x1="279.7" y1="436.8" x2="393.7" y2="477.6" stroke="#1fe21f" stroke-width="2"/>
<path d="M400.5,480.0 L391.5,480.7 L394.0,473.8 Z" fill="#1fe21f"/>
<line x1="557.2" y1="495.6" x2="476.1" y2="524.6" stroke="#1fe21f" stroke-width="2"/>
<path d="M469.3,527.0 L475.8,520.8 L478.3,527.7 Z" fill="#1fe21f"/>
<line x1="266.9" y1="513.9" x2="340.4" y2="545.6" stroke="#1fe21f" stroke-width="2"/>
<path d="M347.0,548.4 L338.0,548.6 L340.9,541.8 Z" fill="#1fe21f"/>
<line x1="594.2" y1="625.3" x2="513.3" y2="580.5" stroke="#1fe21f" stroke-width="2"/>
<path d="M507.0,577.0 L516.0,577.7 L512.4,584.2 Z" fill="#1fe21f"/>
<line x1="540.1" y1="660.8" x2="499.5" y2="590.7" stroke="#1fe21f" stroke-width="2"/>
<path d="M495.9,584.5 L503.2,589.7 L496.8,593.5 Z" fill="#1fe21f"/>
<line x1="458.0" y1="636.7" x2="414.5" y2="581.8" stroke="#1fe21f" stroke-width="2"/>
<path d="M410.0,576.2 L418.0,580.3 L412.2,584.9 Z" fill="#1fe21f"/>
<line x1="338.0" y1="678.5" x2="382.2" y2="580.6" stroke="#1fe21f" stroke-width="2"/>
<path d="M385.2,574.0 L385.2,583.0 L378.5,580.0 Z" fill="#1fe21f"/>
<line x1="239.8" y1="695.0" x2="284.2" y2="659.9" stroke="#1fe21f" stroke-width="2"/>
<path d="M289.8,655.4 L285.7,663.4 L281.1,657.6 Z" fill="#1fe21f"/>
<line x1="516.7" y1="804.8" x2="501.0" y2="789.7" stroke="#1fe21f" stroke-width="2"/>
<path d="M495.8,784.7 L504.3,787.7 L499.1,793.1 Z" fill="#1fe21f"/>
<circle cx="287.8" cy="77.8" r="14.3" fill="none" stroke="#1c9c1c" stroke-width="1.35"/>
<path d="M283.40,71.80 h2.3 v12.90 h-2.3 v-10.70 l-1.7,1.9 v-1.9 z M283.40,71.80 l-1.7,1.9" fill="#e6e6e6"/>
<path d="M283.50,71.80 L281.60,73.80 L281.60,75.50 L283.50,74.20 Z" fill="#e6e6e6"/>
<text x="286.70" y="84.70" class="num" textLength="7.6" lengthAdjust="spacingAndGlyphs">3</text>
<circle cx="603.7" cy="92.7" r="14.3" fill="none" stroke="#1c9c1c" stroke-width="1.35"/>
<path d="M599.30,86.70 h2.3 v12.90 h-2.3 v-10.70 l-1.7,1.9 v-1.9 z M599.30,86.70 l-1.7,1.9" fill="#e6e6e6"/>
<path d="M599.40,86.70 L597.50,88.70 L597.50,90.40 L599.40,89.10 Z" fill="#e6e6e6"/>
<text x="602.60" y="99.60" class="num" textLength="7.6" lengthAdjust="spacingAndGlyphs">2</text>
<circle cx="618.6" cy="318.4" r="14.3" fill="none" stroke="#1c9c1c" stroke-width="1.35"/>
<path d="M615.55,312.40 h2.3 v12.90 h-2.3 v-10.70 l-1.7,1.9 v-1.9 z M615.55,312.40 l-1.7,1.9" fill="#e6e6e6"/>
<path d="M615.65,312.40 L613.75,314.40 L613.75,316.10 L615.65,314.80 Z" fill="#e6e6e6"/>
<path d="M621.05,312.40 h2.3 v12.90 h-2.3 v-10.70 l-1.7,1.9 v-1.9 z M621.05,312.40 l-1.7,1.9" fill="#e6e6e6"/>
<path d="M621.15,312.40 L619.25,314.40 L619.25,316.10 L621.15,314.80 Z" fill="#e6e6e6"/>
<circle cx="276.5" cy="367.0" r="14.3" fill="none" stroke="#1c9c1c" stroke-width="1.35"/>
<path d="M272.10,361.00 h2.3 v12.90 h-2.3 v-10.70 l-1.7,1.9 v-1.9 z M272.10,361.00 l-1.7,1.9" fill="#e6e6e6"/>
<path d="M272.20,361.00 L270.30,363.00 L270.30,364.70 L272.20,363.40 Z" fill="#e6e6e6"/>
<text x="275.40" y="373.90" class="num" textLength="7.6" lengthAdjust="spacingAndGlyphs">0</text>
<circle cx="261.5" cy="436.5" r="14.3" fill="none" stroke="#1c9c1c" stroke-width="1.35"/>
<text x="257.65" y="443.40" class="num" textLength="7.6" lengthAdjust="spacingAndGlyphs">5</text>
<circle cx="577.0" cy="490.8" r="14.3" fill="none" stroke="#1c9c1c" stroke-width="1.35"/>
<text x="573.15" y="497.70" class="num" textLength="7.6" lengthAdjust="spacingAndGlyphs">6</text>
<circle cx="249.7" cy="508.0" r="14.3" fill="none" stroke="#1c9c1c" stroke-width="1.35"/>
<text x="245.85" y="514.90" class="num" textLength="7.6" lengthAdjust="spacingAndGlyphs">8</text>
<circle cx="612.6" cy="637.4" r="14.3" fill="none" stroke="#1c9c1c" stroke-width="1.35"/>
<text x="608.75" y="644.30" class="num" textLength="7.6" lengthAdjust="spacingAndGlyphs">9</text>
<circle cx="473.0" cy="653.8" r="14.3" fill="none" stroke="#1c9c1c" stroke-width="1.35"/>
<text x="469.15" y="660.70" class="num" textLength="7.6" lengthAdjust="spacingAndGlyphs">3</text>
<circle cx="548.4" cy="678.7" r="14.3" fill="none" stroke="#1c9c1c" stroke-width="1.35"/>
<text x="544.55" y="685.60" class="num" textLength="7.6" lengthAdjust="spacingAndGlyphs">7</text>
<circle cx="223.7" cy="708.0" r="14.3" fill="none" stroke="#1c9c1c" stroke-width="1.35"/>
<text x="219.85" y="714.90" class="num" textLength="7.6" lengthAdjust="spacingAndGlyphs">4</text>
<circle cx="333.0" cy="700.4" r="14.3" fill="none" stroke="#1c9c1c" stroke-width="1.35"/>
<text x="329.15" y="707.30" class="num" textLength="7.6" lengthAdjust="spacingAndGlyphs">2</text>
<circle cx="527.0" cy="817.0" r="14.3" fill="none" stroke="#1c9c1c" stroke-width="1.35"/>
<path d="M527.10,811.00 h2.3 v12.90 h-2.3 v-10.70 l-1.7,1.9 v-1.9 z M527.10,811.00 l-1.7,1.9" fill="#e6e6e6"/>
<path d="M527.20,811.00 L525.30,813.00 L525.30,814.70 L527.20,813.40 Z" fill="#e6e6e6"/>
<path d="M870.10,82.70 h2.3 v12.90 h-2.3 v-10.70 l-1.7,1.9 v-1.9 z M870.10,82.70 l-1.7,1.9" fill="#e6e6e6"/>
<path d="M870.20,82.70 L868.30,84.70 L868.30,86.40 L870.20,85.10 Z" fill="#e6e6e6"/>
<text x="866.15" y="154.50" class="num" textLength="7.6" lengthAdjust="spacingAndGlyphs">2</text>
<text x="866.15" y="213.40" class="num" textLength="7.6" lengthAdjust="spacingAndGlyphs">3</text>
<text x="866.15" y="272.30" class="num" textLength="7.6" lengthAdjust="spacingAndGlyphs">4</text>
<text x="866.15" y="331.20" class="num" textLength="7.6" lengthAdjust="spacingAndGlyphs">5</text>
<text x="866.15" y="390.10" class="num" textLength="7.6" lengthAdjust="spacingAndGlyphs">6</text>
<text x="866.15" y="449.00" class="num" textLength="7.6" lengthAdjust="spacingAndGlyphs">7</text>
<text x="866.15" y="507.90" class="num" textLength="7.6" lengthAdjust="spacingAndGlyphs">8</text>
<text x="866.15" y="566.80" class="num" textLength="7.6" lengthAdjust="spacingAndGlyphs">9</text>
<path d="M865.60,612.80 h2.3 v12.90 h-2.3 v-10.70 l-1.7,1.9 v-1.9 z M865.60,612.80 l-1.7,1.9" fill="#e6e6e6"/>
<path d="M865.70,612.80 L863.80,614.80 L863.80,616.50 L865.70,615.20 Z" fill="#e6e6e6"/>
<text x="868.90" y="625.70" class="num" textLength="7.6" lengthAdjust="spacingAndGlyphs">0</text>
<path d="M866.95,671.70 h2.3 v12.90 h-2.3 v-10.70 l-1.7,1.9 v-1.9 z M866.95,671.70 l-1.7,1.9" fill="#e6e6e6"/>
<path d="M867.05,671.70 L865.15,673.70 L865.15,675.40 L867.05,674.10 Z" fill="#e6e6e6"/>
<path d="M872.45,671.70 h2.3 v12.90 h-2.3 v-10.70 l-1.7,1.9 v-1.9 z M872.45,671.70 l-1.7,1.9" fill="#e6e6e6"/>
<path d="M872.55,671.70 L870.65,673.70 L870.65,675.40 L872.55,674.10 Z" fill="#e6e6e6"/>
<path d="M865.60,730.60 h2.3 v12.90 h-2.3 v-10.70 l-1.7,1.9 v-1.9 z M865.60,730.60 l-1.7,1.9" fill="#e6e6e6"/>
<path d="M865.70,730.60 L863.80,732.60 L863.80,734.30 L865.70,733.00 Z" fill="#e6e6e6"/>
<text x="868.90" y="743.50" class="num" textLength="7.6" lengthAdjust="spacingAndGlyphs">2</text>
<path d="M865.60,789.50 h2.3 v12.90 h-2.3 v-10.70 l-1.7,1.9 v-1.9 z M865.60,789.50 l-1.7,1.9" fill="#e6e6e6"/>
<path d="M865.70,789.50 L863.80,791.50 L863.80,793.20 L865.70,791.90 Z" fill="#e6e6e6"/>
<text x="868.90" y="802.40" class="num" textLength="7.6" lengthAdjust="spacingAndGlyphs">3</text>
</g>
<g id="right">
<circle cx="870" cy="88.7" r="14.3" fill="none" stroke="#1c9c1c" stroke-width="1.35"/>
<text x="911.6" y="100.9" class="it" textLength="124" lengthAdjust="spacingAndGlyphs">PLAYER START</text>
<circle cx="870" cy="147.6" r="14.3" fill="none" stroke="#1c9c1c" stroke-width="1.35"/>
<text x="911.6" y="159.7" class="it" textLength="287.1" lengthAdjust="spacingAndGlyphs">WAY BLOCKED (DAMAGED BRIDGE)</text>
<circle cx="870" cy="206.5" r="14.3" fill="none" stroke="#1c9c1c" stroke-width="1.35"/>
<text x="911.6" y="218.5" class="it" textLength="261.5" lengthAdjust="spacingAndGlyphs">LOCKED DOOR, NEEDS KEYCODE</text>
<circle cx="870" cy="265.4" r="14.3" fill="none" stroke="#1c9c1c" stroke-width="1.35"/>
<text x="911.6" y="277.2" class="it" textLength="144.2" lengthAdjust="spacingAndGlyphs">KEYCODE FOR (3)</text>
<circle cx="870" cy="324.3" r="14.3" fill="none" stroke="#1c9c1c" stroke-width="1.35"/>
<text x="911.6" y="336" class="it" textLength="191.7" lengthAdjust="spacingAndGlyphs">WAY BLOCKED (MINES)</text>
<circle cx="870" cy="383.2" r="14.3" fill="none" stroke="#1c9c1c" stroke-width="1.35"/>
<text x="911.6" y="394.8" class="it" textLength="246.5" lengthAdjust="spacingAndGlyphs">WAY BLOCKED (STEAM LEAK)</text>
<circle cx="870" cy="442.1" r="14.3" fill="none" stroke="#1c9c1c" stroke-width="1.35"/>
<text x="911.6" y="453.6" class="it" textLength="261.5" lengthAdjust="spacingAndGlyphs">LOCKED DOOR, NEEDS KEYCODE</text>
<circle cx="870" cy="501" r="14.3" fill="none" stroke="#1c9c1c" stroke-width="1.35"/>
<text x="911.6" y="512.4" class="it" textLength="144.2" lengthAdjust="spacingAndGlyphs">KEYCODE FOR (7)</text>
<circle cx="870" cy="559.9" r="14.3" fill="none" stroke="#1c9c1c" stroke-width="1.35"/>
<text x="911.6" y="571.1" class="it" textLength="202.3" lengthAdjust="spacingAndGlyphs">VALVE, CLEARS WAY (6)</text>
<circle cx="870" cy="618.8" r="14.3" fill="none" stroke="#1c9c1c" stroke-width="1.35"/>
<text x="911.6" y="629.9" class="it" textLength="116" lengthAdjust="spacingAndGlyphs">LOCKED DOOR</text>
<circle cx="870" cy="677.7" r="14.3" fill="none" stroke="#1c9c1c" stroke-width="1.35"/>
<text x="911.6" y="688.7" class="it" textLength="310" lengthAdjust="spacingAndGlyphs">TERMINAL FOR (10), NEEDS KEYCARD</text>
<circle cx="870" cy="736.6" r="14.3" fill="none" stroke="#1c9c1c" stroke-width="1.35"/>
<text x="911.6" y="747.5" class="it" textLength="155" lengthAdjust="spacingAndGlyphs">KEYCARD FOR (11)</text>
<circle cx="870" cy="795.5" r="14.3" fill="none" stroke="#1c9c1c" stroke-width="1.35"/>
<text x="911.6" y="806.3" class="it" textLength="116.5" lengthAdjust="spacingAndGlyphs">END OF LEVEL</text>
<line x1="854" y1="119.3" x2="1273.9" y2="119.3" stroke="#1fd41f" stroke-width="1.5"/>
<line x1="854" y1="295.4" x2="1273.9" y2="295.4" stroke="#1fd41f" stroke-width="1.5"/>
<line x1="854" y1="589.5" x2="1273.9" y2="589.5" stroke="#1fd41f" stroke-width="1.5"/>
<line x1="854" y1="766" x2="1273.9" y2="766" stroke="#1fd41f" stroke-width="1.5"/>
<line x1="1273.2" y1="118.6" x2="1273.2" y2="154.8" stroke="#1fd41f" stroke-width="1.5"/>
<line x1="1273.2" y1="266.9" x2="1273.2" y2="381.5" stroke="#1fd41f" stroke-width="1.5"/>
<line x1="1273.2" y1="504.5" x2="1273.2" y2="619.8" stroke="#1fd41f" stroke-width="1.5"/>
<line x1="1273.2" y1="737.2" x2="1273.2" y2="766.7" stroke="#1fd41f" stroke-width="1.5"/>
<text transform="translate(1282.4,250) rotate(-90)" class="pz" textLength="79.2" lengthAdjust="spacingAndGlyphs">PUZZLE I</text>
<text transform="translate(1282.4,486.5) rotate(-90)" class="pz" textLength="82.9" lengthAdjust="spacingAndGlyphs">PUZZLE II</text>
<text transform="translate(1282.4,722) rotate(-90)" class="pz" textLength="85.4" lengthAdjust="spacingAndGlyphs">PUZZLE III</text>
</g>
<text x="209.6" y="783" class="t1" textLength="155.5" lengthAdjust="spacingAndGlyphs">SEWER LEVEL</text>
<text x="209.2" y="821.6" class="t2" textLength="142.2" lengthAdjust="spacingAndGlyphs">MAP LAYOUT</text>
</svg>
</body></html>
